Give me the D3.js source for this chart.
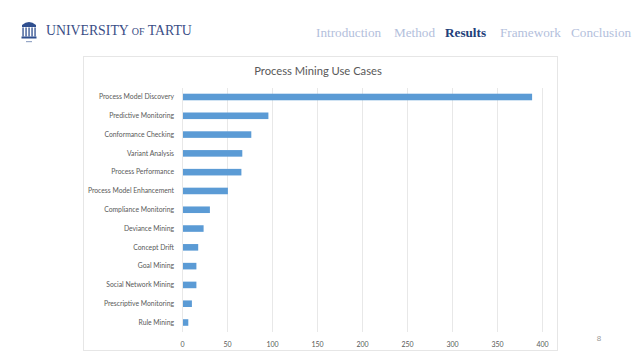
<!DOCTYPE html>
<html><head><meta charset="utf-8">
<script src="https://cdn.jsdelivr.net/npm/d3@7"></script>
<style>
html,body{margin:0;padding:0;background:#fff;}
svg{display:block;}
</style></head>
<body><svg id="c" width="638" height="359"></svg>
<script>
const categories = ["Process Model Discovery","Predictive Monitoring","Conformance Checking","Variant Analysis","Process Performance","Process Model Enhancement","Compliance Monitoring","Deviance Mining","Concept Drift","Goal Mining","Social Network Mining","Prescriptive Monitoring","Rule Mining"];
const values = [389, 96, 77, 67, 66, 51, 31, 24, 18, 16, 16, 11, 7];
const xTicks = [0, 50, 100, 150, 200, 250, 300, 350, 400];
const navItems = ["Introduction","Method","Results","Framework","Conclusion"];
const chartTitle = "Process Mining Use Cases";

const svg = d3.select("#c");

// header logo
const logo = svg.append("g").attr("fill","#2f4f8f");
logo.append("path").attr("d","M22,25 Q29,19 36,25 Z");
logo.append("rect").attr("x",22).attr("y",25).attr("width",14).attr("height",2);
[23,26,29,32,35].forEach(x=>logo.append("rect").attr("x",x-0.6).attr("y",27.5).attr("width",1.3).attr("height",9));
logo.append("rect").attr("x",21.5).attr("y",36.5).attr("width",15).attr("height",2);
logo.append("rect").attr("x",26).attr("y",41).attr("width",6).attr("height",1.2).attr("opacity",0.5);

const brand = svg.append("text").attr("x",46).attr("y",35)
  .attr("font-family","'Liberation Serif', serif").attr("fill","#3a4d86").attr("font-size",13.8);
brand.append("tspan").text("UNIVERSITY ");
brand.append("tspan").attr("font-size",10).text("OF");
brand.append("tspan").text(" TARTU");

// nav
const navX = [316, 394, 445, 500, 571];
navItems.forEach((t,i)=>{
  svg.append("text").attr("x",navX[i]).attr("y",37)
    .attr("font-family","'Liberation Serif', serif").attr("font-size",13.2)
    .attr("font-weight", t==="Results" ? "bold" : "normal")
    .attr("fill", t==="Results" ? "#22407a" : "#b3c0dc")
    .text(t);
});

// chart frame
svg.append("rect").attr("x",83.5).attr("y",56.5).attr("width",474).attr("height",294)
  .attr("fill","#fff").attr("stroke","#e6e6e6").attr("stroke-width",1);

svg.append("text").attr("x",318).attr("y",75).attr("text-anchor","middle")
  .attr("font-family","Lato, 'Open Sans', sans-serif").attr("font-size",11.2).attr("fill","#595959")
  .text(chartTitle);

const x = d3.scaleLinear().domain([0,400]).range([182,542]);
const y = d3.scaleBand().domain(categories).range([87.5,332]).paddingInner(0.65).paddingOuter(0.33);

// gridlines
svg.append("g").selectAll("line").data(xTicks).join("line")
  .attr("x1",d=>x(d)+0.5).attr("x2",d=>x(d)+0.5).attr("y1",88).attr("y2",332)
  .attr("stroke","#e8e8e8").attr("stroke-width",1);

// bars
svg.append("g").selectAll("rect").data(values).join("rect")
  .attr("x",x(0)+1).attr("y",(d,i)=>y(categories[i]))
  .attr("width",d=>x(d)-x(0)-1).attr("height",y.bandwidth())
  .attr("fill","#5b9bd5");

// category axis
const ya = svg.append("g").attr("transform",`translate(${x(0)},0)`)
  .call(d3.axisLeft(y).tickSize(0).tickPadding(8));
ya.select(".domain").remove();
ya.selectAll("text").attr("font-family","Lato, 'Open Sans', sans-serif").attr("font-size",6.8).attr("fill","#595959");

// x axis
const xa = svg.append("g").attr("transform","translate(0,332)")
  .call(d3.axisBottom(x).tickValues(xTicks).tickSize(0).tickPadding(10));
xa.select(".domain").remove();
xa.selectAll("text").attr("font-family","Lato, 'Open Sans', sans-serif").attr("font-size",7).attr("fill","#595959");

// page number
svg.append("text").attr("x",599).attr("y",341).attr("text-anchor","middle")
  .attr("font-family","'Liberation Sans', sans-serif").attr("font-size",8).attr("fill","#9a9a9a").text("8");
</script></body></html>
